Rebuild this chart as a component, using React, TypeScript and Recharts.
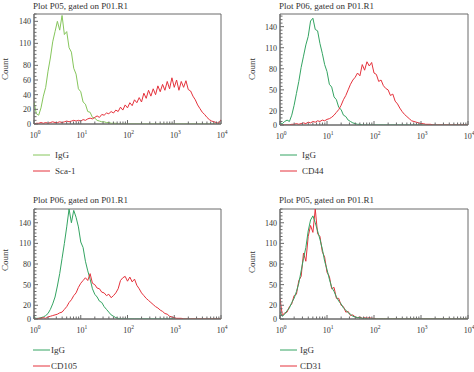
import React from "react";
import { LineChart, Line, XAxis, YAxis, ReferenceArea, Legend } from "recharts";

// log10 fluorescence position of each histogram bin (0 = 10^0 ... 4 = 10^4)
const decades = [
  0, 0.05, 0.1, 0.15, 0.2, 0.25, 0.3, 0.35, 0.4, 0.45,
  0.5, 0.55, 0.6, 0.65, 0.7, 0.75, 0.8, 0.85, 0.9, 0.95,
  1, 1.05, 1.1, 1.15, 1.2, 1.25, 1.3, 1.35, 1.4, 1.45,
  1.5, 1.55, 1.6, 1.65, 1.7, 1.75, 1.8, 1.85, 1.9, 1.95,
  2, 2.05, 2.1, 2.15, 2.2, 2.25, 2.3, 2.35, 2.4, 2.45,
  2.5, 2.55, 2.6, 2.65, 2.7, 2.75, 2.8, 2.85, 2.9, 2.95,
  3, 3.05, 3.1, 3.15, 3.2, 3.25, 3.3, 3.35, 3.4, 3.45,
  3.5, 3.55, 3.6, 3.65, 3.7, 3.75, 3.8, 3.85, 3.9, 3.95,
  4,
];

const p1IgG = [
  30, 14, 12, 22, 38, 50, 72, 90, 112, 126,
  140, 128, 148, 122, 126, 104, 98, 76, 68, 48,
  44, 30, 27, 17, 16, 9, 8, 5, 4, 3,
  3, 2, 2, 1, 1, 1, 0, 0, 0, 0,
  0, 0, 0, 0, 0, 0, 0, 0, 0, 0,
  0, 0, 0, 0, 0, 0, 0, 0, 0, 0,
  0, 0, 0, 0, 0, 0, 0, 0, 0, 0,
  0, 0, 0, 0, 0, 0, 0, 0, 0, 0,
  0,
];
const p1Sca1 = [
  0, 1, 1, 2, 1, 2, 1, 2, 3, 2,
  2, 3, 2, 3, 4, 3, 4, 5, 4, 5,
  4, 6, 5, 7, 8, 7, 9, 11, 9, 13,
  12, 15, 14, 17, 15, 19, 17, 23, 19, 26,
  22, 29, 25, 33, 29, 36, 30, 42, 35, 46,
  38, 48, 40, 52, 44, 54, 46, 58, 48, 63,
  50, 60, 46, 58, 50, 59, 47, 45, 38, 33,
  26, 21, 16, 13, 9, 6, 4, 3, 2, 1,
  6,
];

const p2IgG = [
  3, 2, 5, 7, 5, 14, 28, 45, 62, 82,
  98, 114, 126, 148, 152, 136, 134, 116, 102, 86,
  76, 58, 54, 40, 36, 25, 22, 14, 12, 7,
  5, 3, 2, 1, 1, 0, 0, 0, 0, 0,
  0, 0, 0, 0, 0, 0, 0, 0, 0, 0,
  0, 0, 0, 0, 0, 0, 0, 0, 0, 0,
  0, 0, 0, 0, 0, 0, 0, 0, 0, 0,
  0, 0, 0, 0, 0, 0, 0, 0, 0, 0,
  0,
];
const p2CD44 = [
  0, 0, 0, 0, 0, 1, 1, 2, 1, 2,
  3, 2, 4, 3, 5, 4, 6, 5, 7, 6,
  8, 9, 11, 14, 18, 22, 28, 36, 42, 50,
  58, 64, 68, 74, 70, 86, 78, 90, 84, 89,
  74, 72, 62, 64, 56, 52, 50, 42, 44, 34,
  30, 24, 19, 15, 12, 9, 6, 5, 4, 3,
  2, 2, 1, 1, 1, 0, 0, 0, 0, 0,
  0, 0, 0, 0, 0, 0, 0, 0, 0, 0,
  0,
];

const p3IgG = [
  2, 1, 1, 2, 3, 5, 8, 14, 22, 32,
  48, 66, 88, 110, 134, 160, 140, 158, 148, 134,
  112, 104, 84, 70, 58, 44, 36, 32, 26, 24,
  18, 14, 10, 6, 4, 2, 1, 0, 0, 0,
  0, 0, 0, 0, 0, 0, 0, 0, 0, 0,
  0, 0, 0, 0, 0, 0, 0, 0, 0, 0,
  0, 0, 0, 0, 0, 0, 0, 0, 0, 0,
  0, 0, 0, 0, 0, 0, 0, 0, 0, 0,
  0,
];
const p3CD105 = [
  0, 0, 1, 1, 2, 1, 3, 4, 5, 6,
  7, 9, 10, 14, 18, 24, 28, 34, 38, 46,
  52, 56, 60, 56, 66, 52, 50, 45, 44, 39,
  38, 34, 36, 31, 34, 38, 44, 56, 60, 62,
  55, 61, 54, 58, 49, 44, 38, 34, 30, 27,
  24, 21, 18, 16, 13, 11, 8, 7, 4, 3,
  2, 1, 1, 1, 0, 0, 0, 0, 0, 0,
  0, 0, 0, 0, 0, 0, 0, 0, 0, 0,
  0,
];

const p4IgG = [
  10, 4, 7, 12, 16, 24, 30, 40, 52, 70,
  88, 104, 128, 144, 150, 140, 128, 116, 102, 84,
  72, 58, 46, 40, 32, 26, 22, 16, 13, 9,
  7, 4, 3, 2, 2, 1, 1, 0, 0, 0,
  0, 0, 0, 0, 0, 0, 0, 0, 0, 0,
  0, 0, 0, 0, 0, 0, 0, 0, 0, 0,
  0, 0, 0, 0, 0, 0, 0, 0, 0, 0,
  0, 0, 0, 0, 0, 0, 0, 0, 0, 0,
  0,
];
const p4CD31 = [
  30, 5, 9, 10, 18, 22, 34, 36, 56, 62,
  96, 84, 120, 136, 126, 160, 124, 120, 98, 90,
  68, 62, 44, 46, 30, 30, 20, 18, 10, 11,
  5, 6, 3, 2, 3, 1, 2, 1, 2, 1,
  1, 0, 0, 0, 0, 0, 0, 0, 0, 0,
  0, 0, 0, 0, 0, 0, 0, 0, 0, 0,
  0, 0, 0, 0, 0, 0, 0, 0, 0, 0,
  0, 0, 0, 0, 0, 0, 0, 0, 0, 0,
  0,
];

const xExponents = ["0", "1", "2", "3", "4"];
const yLabelsTop = [0, 20, 40, 60, 80, 110, 140];
const yLabelsRest = [0, 20, 50, 80, 110, 140];

const SERIF = "'Liberation Serif', 'DejaVu Serif', serif";
const AXIS = "#6a6a6a";
const TEXT = "#333";
const GREEN_LIGHT = "#86c65c";
const GREEN = "#34a462";
const RED = "#e5323c";

// major decades + log minor ticks (2..9 within each decade)
const xTicks: number[] = [];
xExponents.forEach((_, k) => {
  xTicks.push(k);
  if (k < 4) [2, 3, 4, 5, 6, 7, 8, 9].forEach((m) => xTicks.push(k + Math.log10(m)));
});

const yTicksFor = (max: number, labels: number[]) => {
  const t: number[] = [];
  for (let v = 0; v <= max; v += 5) t.push(v);
  labels.forEach((l) => !t.includes(l) && t.push(l));
  return t.sort((a, b) => a - b);
};

const XTick = (props: any) => {
  const { x, y, payload } = props;
  const v = payload.value;
  const k = Math.round(v);
  const major = Math.abs(v - k) < 1e-6;
  return (
    <g>
      <line x1={x} x2={x} y1={y} y2={y - (major ? 4 : 2.5)} stroke={AXIS} />
      {major && (
        <text x={x + 1} y={y + 14} textAnchor="middle" fontFamily={SERIF} fontSize={8} fill={TEXT}>
          10<tspan dy={-4} fontSize={5.5}>{xExponents[k]}</tspan>
        </text>
      )}
    </g>
  );
};

const YTick = (props: any) => {
  const { x, y, payload, labels } = props;
  const major = labels.includes(payload.value);
  return (
    <g>
      <line x1={x} x2={x + (major ? 4 : 2.5)} y1={y} y2={y} stroke={AXIS} />
      {major && (
        <text x={x - 3} y={y + 3} textAnchor="end" fontFamily={SERIF} fontSize={8} fill={TEXT}>
          {payload.value}
        </text>
      )}
    </g>
  );
};

type PanelProps = {
  title: string;
  names: [string, string];
  colors: [string, string];
  series: [number[], number[]];
  ymax: number;
  yLabels: number[];
  margin: { top: number; right: number; bottom: number; left: number };
  titleY: number;
  countX: number;
  countY: number;
  legendLeft: number;
  legendTop: number;
  legendGap: number;
  greenOnTop?: boolean;
};

const LegendBox = ({ names, colors, gap }: { names: string[]; colors: string[]; gap: number }) => (
  <div style={{ fontFamily: SERIF, fontSize: 9, color: TEXT }}>
    {names.map((n, i) => (
      <div key={n} style={{ display: "flex", alignItems: "center", height: 16 }}>
        <svg width={17} height={4} style={{ display: "block" }}>
          <line x1={0} x2={17} y1={2} y2={2} stroke={colors[i]} strokeWidth={1} />
        </svg>
        <span style={{ marginLeft: gap }}>{n}</span>
      </div>
    ))}
  </div>
);

const Panel = (p: PanelProps) => {
  const data = decades.map((d, i) => ({ d, a: p.series[0][i], b: p.series[1][i] }));
  const yTicks = yTicksFor(p.ymax, p.yLabels);
  const lineA = (
    <Line key="a" type="linear" dataKey="a" stroke={p.colors[0]} strokeWidth={1} dot={false} isAnimationActive={false} />
  );
  const lineB = (
    <Line key="b" type="linear" dataKey="b" stroke={p.colors[1]} strokeWidth={1} dot={false} isAnimationActive={false} />
  );
  return (
    <LineChart width={237} height={186} data={data} margin={p.margin}>
      <XAxis
        type="number"
        dataKey="d"
        domain={[0, 4]}
        allowDataOverflow
        ticks={xTicks}
        interval={0}
        tickSize={0}
        tickMargin={0}
        tickLine={false}
        axisLine={{ stroke: AXIS }}
        height={20}
        tick={(t: any) => <XTick {...t} />}
      />
      <YAxis
        type="number"
        domain={[0, p.ymax]}
        allowDataOverflow
        ticks={yTicks}
        interval={0}
        tickSize={0}
        tickMargin={0}
        tickLine={false}
        axisLine={{ stroke: AXIS }}
        width={30}
        tick={(t: any) => <YTick {...t} labels={p.yLabels} />}
      />
      <ReferenceArea x1={0} x2={4} y1={0} y2={p.ymax} fill="none" stroke={AXIS} strokeWidth={1} />
      {p.greenOnTop ? [lineB, lineA] : [lineA, lineB]}
      <text x={p.margin.left + 29} y={p.titleY} fontFamily={SERIF} fontSize={9} fill={TEXT}>
        {p.title}
      </text>
      <text
        transform={`translate(${p.countX},${p.countY}) rotate(-90)`}
        textAnchor="middle"
        fontFamily={SERIF}
        fontSize={9}
        fill={TEXT}
      >
        Count
      </text>
      <Legend
        layout="vertical"
        align="center"
        verticalAlign="middle"
        wrapperStyle={{ left: p.legendLeft, top: p.legendTop, width: "auto" }}
        content={() => <LegendBox names={p.names} colors={p.colors} gap={p.legendGap} />}
      />
    </LineChart>
  );
};

export default function App() {
  return (
    <div style={{ position: "absolute", left: 0, top: 0, width: 474, height: 372, background: "#fff" }}>
      <div style={{ position: "absolute", left: 0, top: 0 }}>
        <Panel
          title="Plot P05, gated on P01.R1"
          names={["IgG", "Sca-1"]}
          colors={[GREEN_LIGHT, RED]}
          series={[p1IgG, p1Sca1]}
          ymax={150}
          yLabels={yLabelsTop}
          margin={{ top: 14, right: 16, bottom: 42, left: 4 }}
          titleY={9}
          countX={8}
          countY={69}
          legendLeft={33}
          legendTop={147}
          legendGap={5}
        />
      </div>
      <div style={{ position: "absolute", left: 237, top: 0 }}>
        <Panel
          title="Plot P06, gated on P01.R1"
          names={["IgG", "CD44"]}
          colors={[GREEN, RED]}
          series={[p2IgG, p2CD44]}
          ymax={158}
          yLabels={yLabelsRest}
          margin={{ top: 14, right: 6, bottom: 41, left: 13 }}
          titleY={9}
          countX={18}
          countY={69}
          legendLeft={43}
          legendTop={147}
          legendGap={5}
        />
      </div>
      <div style={{ position: "absolute", left: 0, top: 186 }}>
        <Panel
          title="Plot P06, gated on P01.R1"
          names={["IgG", "CD105"]}
          colors={[GREEN, RED]}
          series={[p3IgG, p3CD105]}
          ymax={160}
          yLabels={yLabelsRest}
          margin={{ top: 23, right: 16, bottom: 33, left: 4 }}
          titleY={17}
          countX={8}
          countY={74}
          legendLeft={33}
          legendTop={156}
          legendGap={1}
        />
      </div>
      <div style={{ position: "absolute", left: 237, top: 186 }}>
        <Panel
          title="Plot P05, gated on P01.R1"
          names={["IgG", "CD31"]}
          colors={[GREEN, RED]}
          series={[p4IgG, p4CD31]}
          ymax={160}
          yLabels={yLabelsRest}
          margin={{ top: 23, right: 6, bottom: 33, left: 13 }}
          titleY={17}
          countX={18}
          countY={76}
          legendLeft={43}
          legendTop={156}
          legendGap={3}
          greenOnTop
        />
      </div>
    </div>
  );
}
